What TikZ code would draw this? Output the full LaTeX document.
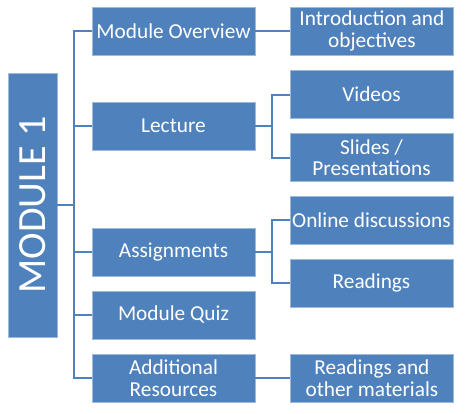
\documentclass[tikz,border=0pt]{standalone}
\usepackage{fontspec}
\setmainfont{Carlito}
\usepackage{xcolor}
\usepackage{tikz}
\usetikzlibrary{positioning}

\definecolor{boxblue}{HTML}{4F81BD}

\begin{document}
\begin{tikzpicture}[
  x=1pt, y=-1pt,
  box/.style={fill=boxblue, draw=boxblue!55!white, line width=0.4pt, text=white, align=center,
    minimum width=163pt, minimum height=48pt, inner sep=1pt,
    font=\fontsize{21.3}{21.5}\selectfont},
  modbox/.style={box, rotate=90, minimum width=264pt, minimum height=48.4pt,
    font=\fontsize{40}{40}\selectfont},
  link/.style={draw=boxblue, line width=2pt},
  node distance=35pt
]
\useasboundingbox (0,0) rectangle (470,413);
\node[modbox] (module) at (32.5,205) {MODULE 1};
\node[box] (overview) at (173.5,31) {Module Overview};
\node[box] (lecture) at (173.5,126) {Lecture};
\node[box] (assign) at (173.5,252) {Assignments};
\node[box] (quiz) at (173.5,315) {Module Quiz};
\node[box] (extra) at (173.5,378) {Additional\\Resources};
\node[box, right=of overview] (intro) {Introduction and\\objectives};
\node[box] (videos) at (371.5,94.5) {Videos};
\node[box] (slides) at (371.5,157.5) {Slides /\\Presentations};
\node[box] (online) at (371.5,220) {Online discussions};
\node[box] (readings) at (371.5,283) {Readings};
\node[box, right=of extra] (materials) {Readings and\\other materials};
\coordinate (trunk) at (74,0);
% trunk
\draw[link] (overview.west) -- (overview.west -| trunk) |- (extra.west);
\draw[link] (module.south) -- (module.south -| trunk);
\draw[link] (lecture.west) -- (lecture.west -| trunk);
\draw[link] (assign.west) -- (assign.west -| trunk);
\draw[link] (quiz.west) -- (quiz.west -| trunk);
% second level
\draw[link] (overview) -- (intro);
\draw[link] (extra) -- (materials);
\draw[link] (lecture.east) -- ++(17,0) coordinate (lfork);
\draw[link] (videos.west) -| (lfork) |- (slides.west);
\draw[link] (assign.east) -- ++(17,0) coordinate (afork);
\draw[link] (online.west) -| (afork) |- (readings.west);
\end{tikzpicture}
\end{document}
